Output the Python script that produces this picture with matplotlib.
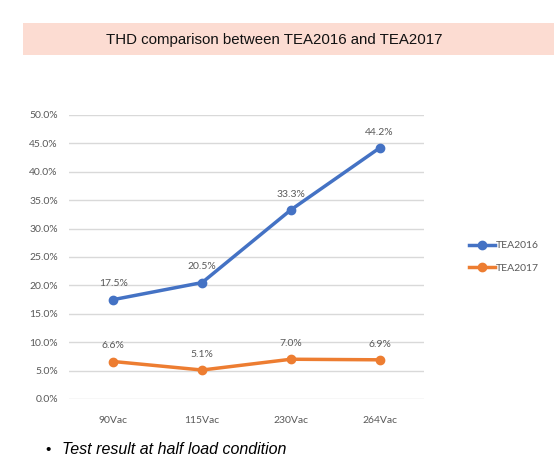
import matplotlib
matplotlib.use("Agg")
import matplotlib.pyplot as plt
from matplotlib.patches import Rectangle

categories = ["90Vac", "115Vac", "230Vac", "264Vac"]
tea2016 = [17.5, 20.5, 33.3, 44.2]
tea2017 = [6.6, 5.1, 7.0, 6.9]
yticks = [0, 5, 10, 15, 20, 25, 30, 35, 40, 45, 50]

blue = "#4472C4"
orange = "#ED7D31"
gray_text = "#595959"

fig = plt.figure(figsize=(5.54, 4.71), dpi=100)
fig.patch.set_facecolor("white")

# title band
fig.patches.append(Rectangle((23/554, 1-55/471), 1-23/554, 32/471,
                             transform=fig.transFigure, facecolor="#FCDCD2",
                             edgecolor="none", zorder=0))
fig.text(274/554, 1-40/471, "THD comparison between TEA2016 and TEA2017",
         ha="center", va="center", fontsize=10.8, family="Liberation Sans", color="#111111")

ax = fig.add_axes([69/554, 1-399/471, 355/554, 284/471])
x = list(range(len(categories)))
ax.plot(x, tea2016, color=blue, lw=2.5, marker="o", ms=6, label="TEA2016", zorder=3)
ax.plot(x, tea2017, color=orange, lw=2.5, marker="o", ms=6, label="TEA2017", zorder=3)

for xi, v in zip(x, tea2016):
    ax.annotate(f"{v:.1f}%", (xi, v), xytext=(0, 8), textcoords="offset points",
                ha="center", va="bottom", fontsize=7.5, color=gray_text, family="Lato")
for xi, v in zip(x, tea2017):
    ax.annotate(f"{v:.1f}%", (xi, v), xytext=(0, 8), textcoords="offset points",
                ha="center", va="bottom", fontsize=7.5, color=gray_text, family="Lato")

ax.set_xlim(-0.5, len(categories) - 0.5)
ax.set_ylim(0, 50)
ax.set_yticks(yticks)
ax.set_yticklabels([f"{t:.1f}%" for t in yticks])
ax.set_xticks(x)
ax.set_xticklabels(categories)
ax.grid(axis="y", color="#D9D9D9", lw=1)
ax.set_axisbelow(True)
for s in ax.spines.values():
    s.set_visible(False)
ax.tick_params(axis="both", length=0, labelsize=7.5, labelcolor=gray_text)
ax.tick_params(axis="y", pad=8)
ax.tick_params(axis="x", pad=12)
for lbl in ax.get_xticklabels() + ax.get_yticklabels():
    lbl.set_family("Lato")

leg = ax.legend(loc="center left", bbox_to_anchor=(1.1, 0.5), frameon=False,
                handlelength=2.5, handletextpad=0.1, labelspacing=1.3,
                prop={"family": "Lato", "size": 7.5})
for t in leg.get_texts():
    t.set_color(gray_text)

fig.text(45/554, 1-450/471, "•", fontsize=11, family="Liberation Sans", va="center", ha="left")
fig.text(62/554, 1-450/471, "Test result at half load condition", fontsize=11.5,
         family="Liberation Sans", style="italic", va="center", ha="left")

fig.savefig("out.png", dpi=100)
